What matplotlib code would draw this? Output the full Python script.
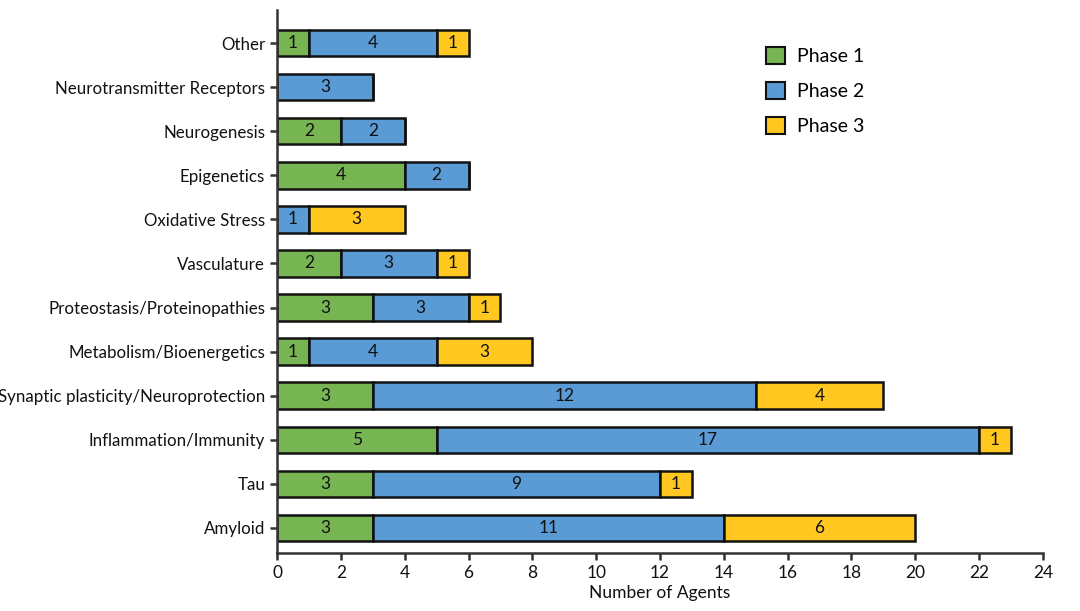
import matplotlib
matplotlib.use("Agg")
import matplotlib.pyplot as plt
from matplotlib.patches import Patch

plt.rcParams['font.family'] = ['Lato', 'DejaVu Sans']

categories = ["Amyloid", "Tau", "Inflammation/Immunity", "Synaptic plasticity/Neuroprotection",
              "Metabolism/Bioenergetics", "Proteostasis/Proteinopathies", "Vasculature",
              "Oxidative Stress", "Epigenetics", "Neurogenesis", "Neurotransmitter Receptors", "Other"]
phase1 = [3, 3, 5, 3, 1, 3, 2, 0, 4, 2, 0, 1]
phase2 = [11, 9, 17, 12, 4, 3, 3, 1, 2, 2, 3, 4]
phase3 = [6, 1, 1, 4, 3, 1, 1, 3, 0, 0, 0, 1]
series = [("Phase 1", phase1, "#77b553"), ("Phase 2", phase2, "#5b9bd5"), ("Phase 3", phase3, "#ffc71f")]
xticks = list(range(0, 25, 2))

fig = plt.figure(figsize=(10.8, 6.11), dpi=100)
ax = fig.add_axes([0.2565, 0.0949, 0.7092, 0.8887])

y = list(range(len(categories)))
left = [0] * len(categories)
for name, vals, color in series:
    bars = ax.barh(y, vals, left=left, height=0.6, color=color, edgecolor="#111111", linewidth=1.8, label=name)
    for yi, v, l in zip(y, vals, left):
        if v > 0:
            ax.text(l + v / 2, yi, str(v), ha="center", va="center", fontsize=12.5, color="#111111")
    left = [a + b for a, b in zip(left, vals)]

ax.set_xlim(0, 24)
ax.set_ylim(-0.57, 11.75)
ax.set_xticks(xticks)
ax.set_yticks(y)
ax.set_yticklabels(categories)
ax.tick_params(axis="y", labelsize=12.2, width=1.8, length=5, color="#333333", labelcolor="#111111")
ax.tick_params(axis="x", labelsize=12.5, width=1.8, length=5, color="#333333", labelcolor="#111111")
for s in ["top", "right"]:
    ax.spines[s].set_visible(False)
for s in ["left", "bottom"]:
    ax.spines[s].set_linewidth(1.8)
    ax.spines[s].set_color("#333333")
ax.set_xlabel("Number of Agents", fontsize=12.5, color="#111111", labelpad=3)

handles = [Patch(facecolor=c, edgecolor="#111111", linewidth=1.5, label=n) for n, _, c in series]
ax.legend(handles=handles, loc="upper left", bbox_to_anchor=(0.615, 0.964), frameon=False,
          fontsize=14, handlelength=1.0, handleheight=1.0, labelspacing=0.85, handletextpad=0.6)

fig.savefig("out.png", dpi=100)
